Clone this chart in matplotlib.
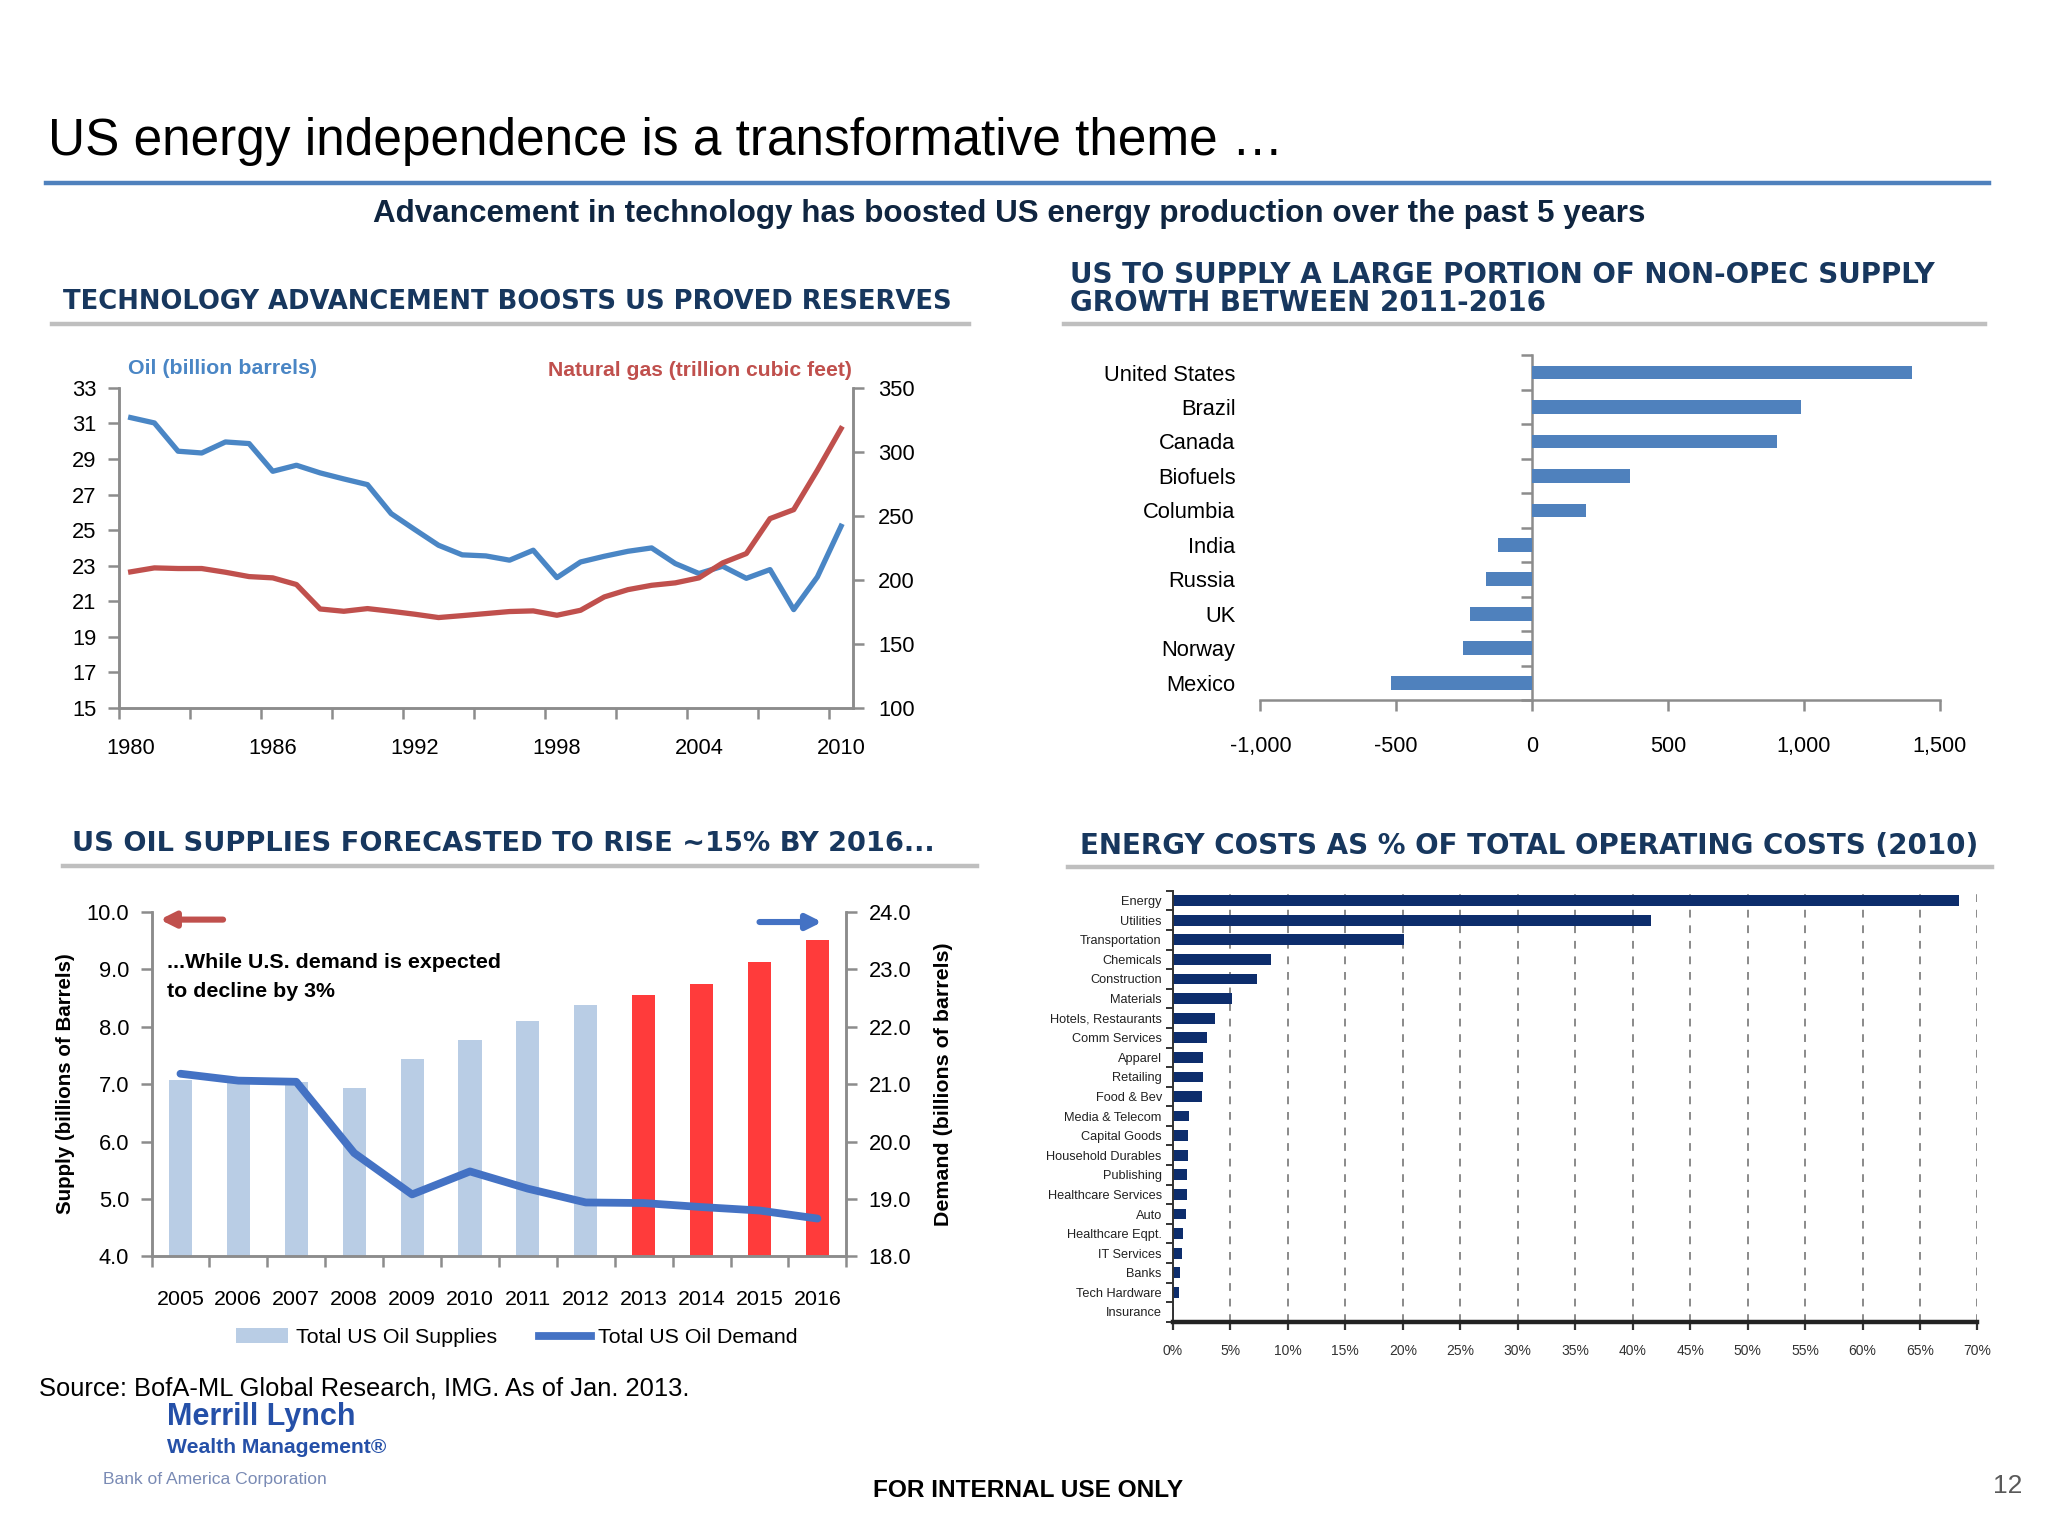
import matplotlib
matplotlib.use('Agg')
import matplotlib.pyplot as plt
from matplotlib import font_manager as fm
from matplotlib.lines import Line2D
from matplotlib.patches import Patch

# ---------------- fonts ----------------
_names = {f.name for f in fm.fontManager.ttflist}
REG = 'Liberation Sans' if 'Liberation Sans' in _names else 'DejaVu Sans'
if 'Liberation Sans Narrow' in _names:
    NAR = dict(family='Liberation Sans Narrow')
else:
    NAR = dict(family=REG)
plt.rcParams['font.family'] = [REG, 'DejaVu Sans']

# ---------------- data ----------------
years = list(range(1980, 2011))
oil_reserves = [31.33, 31.03, 29.44, 29.34, 29.96, 29.87, 28.31, 28.65, 28.22, 27.88,
                27.56, 25.93, 25.03, 24.15, 23.61, 23.55, 23.31, 23.87, 22.33, 23.21,
                23.53, 23.81, 24.00, 23.12, 22.56, 22.97, 22.29, 22.78, 20.53, 22.37, 25.22]
gas_reserves = [206.3, 209.4, 208.9, 208.9, 206.0, 202.6, 201.6, 196.4, 177.3, 175.5,
                177.6, 175.5, 173.2, 170.6, 172.1, 173.7, 175.3, 175.8, 172.4, 176.3,
                186.7, 192.4, 195.8, 197.7, 201.6, 213.3, 220.6, 247.9, 254.9, 285.7, 318.2]
year_labels = [1980, 1986, 1992, 1998, 2004, 2010]

countries = ['United States', 'Brazil', 'Canada', 'Biofuels', 'Columbia',
             'India', 'Russia', 'UK', 'Norway', 'Mexico']
supply_growth = [1400, 990, 900, 360, 200, -125, -170, -230, -255, -520]

fc_years = ['2005', '2006', '2007', '2008', '2009', '2010', '2011', '2012',
            '2013', '2014', '2015', '2016']
oil_supply = [7.07, 7.05, 7.03, 6.93, 7.43, 7.77, 8.10, 8.38, 8.55, 8.74, 9.12, 9.50]
oil_demand = [21.18, 21.06, 21.04, 19.80, 19.08, 19.48, 19.18, 18.94, 18.93, 18.86, 18.80, 18.66]
first_forecast_year = 2013

sectors = ['Energy', 'Utilities', 'Transportation', 'Chemicals', 'Construction', 'Materials',
           'Hotels, Restaurants', 'Comm Services', 'Apparel', 'Retailing', 'Food & Bev',
           'Media & Telecom', 'Capital Goods', 'Household Durables', 'Publishing',
           'Healthcare Services', 'Auto', 'Healthcare Eqpt.', 'IT Services', 'Banks',
           'Tech Hardware', 'Insurance']
energy_cost_pct = [68.4, 41.6, 20.1, 8.5, 7.3, 5.1, 3.7, 3.0, 2.6, 2.6, 2.5,
                   1.4, 1.3, 1.3, 1.2, 1.2, 1.1, 0.9, 0.8, 0.6, 0.55, 0.1]

# ---------------- colours ----------------
OIL_C = '#4A86C5'
GAS_C = '#C0504D'
BAR2_C = '#4F81BD'
SUP_C = '#B9CDE5'
SUP_F = '#FF3B3B'
DEM_C = '#4472C4'
NAVY = '#0D2D6C'
TITLE_C = '#17375E'
SPINE = '#8C8C8C'

TICK_FS = 7.9

fig = plt.figure(figsize=(10.24, 7.68), dpi=200)
fig.patch.set_facecolor('white')

def fx(x):
    return x / 1568.0

def fy(y):
    return 1 - y / 1176.0

# ---------------- header ----------------
fig.text(fx(37), fy(108), 'US energy independence is a transformative theme \u2026',
         fontsize=18.5, family=REG, color='black', va='center', ha='left')
fig.add_artist(Line2D([fx(35), fx(1523)], [fy(140), fy(140)], color='#4F81BD', lw=1.6))
fig.text(fx(773), fy(164), 'Advancement in technology has boosted US energy production over the past 5 years',
         fontsize=11.3, fontweight='bold', color='#0F2540', va='center', ha='center', **NAR)

def panel_title(x, y, txt, x0, x1, yl, fs=10.0):
    fig.text(fx(x), fy(y), txt, fontsize=fs, fontweight='bold', color=TITLE_C,
             va='center', ha='left', family='DejaVu Sans', linespacing=1.0)
    fig.add_artist(Line2D([fx(x0), fx(x1)], [fy(yl), fy(yl)], color='#BFBFBF', lw=1.6))

panel_title(48, 231, 'TECHNOLOGY ADVANCEMENT BOOSTS US PROVED RESERVES', 40, 742, 248, fs=9.3)
panel_title(819, 221, 'US TO SUPPLY A LARGE PORTION OF NON-OPEC SUPPLY\nGROWTH BETWEEN 2011-2016', 815, 1520, 248)
panel_title(55, 646, 'US OIL SUPPLIES FORECASTED TO RISE ~15% BY 2016...', 48, 748, 663, fs=9.8)
panel_title(827, 648, 'ENERGY COSTS AS % OF TOTAL OPERATING COSTS (2010)', 818, 1525, 664)

def style_spines(ax, color=SPINE):
    for s in ax.spines.values():
        s.set_color(color)
        s.set_linewidth(0.9)

# ---------------- panel 1 ----------------
ax1 = fig.add_axes([fx(91), fy(542), fx(653) - fx(91), fy(297) - fy(542)])
ax1.plot(years, oil_reserves, color=OIL_C, lw=1.9, solid_joinstyle='round')
ax1.set_xlim(1979.5, 2010.5)
ax1.set_ylim(15, 33)
ax1.set_yticks(range(15, 34, 2))
ax1.set_xticks(year_labels)
ax1.set_xticks([1979.5 + 3 * k for k in range(11)], minor=True)
ax1.tick_params(axis='x', which='major', length=0, pad=11, labelsize=TICK_FS, labelfontfamily=NAR['family'])
ax1.tick_params(axis='x', which='minor', length=4, color=SPINE, width=0.9)
ax1.tick_params(axis='y', length=4, color=SPINE, width=0.9, pad=4, labelsize=TICK_FS,
                labelfontfamily=NAR['family'])
ax1.spines['top'].set_visible(False)
style_spines(ax1)
ax1b = ax1.twinx()
ax1b.plot(years, gas_reserves, color=GAS_C, lw=1.9, solid_joinstyle='round')
ax1b.set_ylim(100, 350)
ax1b.set_yticks(range(100, 351, 50))
ax1b.tick_params(axis='y', length=4, color=SPINE, width=0.9, pad=5, labelsize=TICK_FS,
                 labelfontfamily=NAR['family'])
ax1b.spines['top'].set_visible(False)
style_spines(ax1b)
ax1.text(0.0125, 1.062, 'Oil (billion barrels)', transform=ax1.transAxes, color=OIL_C,
         fontsize=7.7, fontweight='bold', va='center', ha='left', **NAR)
ax1.text(0.998, 1.055, 'Natural gas (trillion cubic feet)', transform=ax1.transAxes, color=GAS_C,
         fontsize=7.6, fontweight='bold', va='center', ha='right', **NAR)

# ---------------- panel 2 ----------------
ax2 = fig.add_axes([fx(965), fy(536), fx(1485) - fx(965), fy(272) - fy(536)])
ypos = list(range(len(countries)))
ax2.barh(ypos, supply_growth, height=0.4, color=BAR2_C)
ax2.set_xlim(-1000, 1500)
ax2.set_ylim(len(countries) - 0.5, -0.5)
ax2.set_xticks([-1000, -500, 0, 500, 1000, 1500])
ax2.set_xticklabels(['-1,000', '-500', '0', '500', '1,000', '1,500'])
ax2.set_yticks(ypos)
ax2.set_yticklabels(countries)
ax2.tick_params(axis='y', length=0, pad=9, labelsize=7.9, labelfontfamily=NAR['family'])
ax2.tick_params(axis='x', length=4, color=SPINE, width=0.9, pad=9, labelsize=7.8,
                labelfontfamily=NAR['family'])
for s in ['top', 'right', 'left']:
    ax2.spines[s].set_visible(False)
ax2.spines['bottom'].set_color(SPINE)
ax2.spines['bottom'].set_linewidth(0.9)
sec = ax2.secondary_yaxis(0.4)
sec.set_yticks([k - 0.5 for k in range(len(countries) + 1)])
sec.set_yticklabels([])
sec.tick_params(axis='y', length=4, color=SPINE, width=0.9)
sec.spines['left'].set_color(SPINE)
sec.spines['left'].set_linewidth(0.9)

# ---------------- panel 3 ----------------
ax3 = fig.add_axes([fx(116), fy(962), fx(648) - fx(116), fy(698) - fy(962)])
xpos = list(range(len(fc_years)))
bar_cols = [SUP_C if int(y) < first_forecast_year else SUP_F for y in fc_years]
ax3.bar(xpos, oil_supply, width=0.4, color=bar_cols, label='Total US Oil Supplies')
ax3.set_ylim(4.0, 10.0)
ax3.set_xlim(-0.5, len(fc_years) - 0.5)
ax3.set_yticks([4.0 + k for k in range(7)])
ax3.yaxis.set_major_formatter(matplotlib.ticker.FormatStrFormatter('%.1f'))
ax3.set_xticks(xpos)
ax3.set_xticklabels(fc_years)
ax3.set_xticks([k - 0.5 for k in range(len(fc_years) + 1)], minor=True)
ax3.tick_params(axis='x', which='major', length=0, pad=12, labelsize=7.7, labelfontfamily=NAR['family'])
ax3.tick_params(axis='x', which='minor', length=4, color=SPINE, width=0.9)
ax3.tick_params(axis='y', length=4, color=SPINE, width=0.9, pad=4, labelsize=TICK_FS,
                labelfontfamily=NAR['family'])
ax3.spines['top'].set_visible(False)
style_spines(ax3)
ax3.set_ylabel('Supply (billions of Barrels)', fontsize=7.4, fontweight='bold', family=REG)
ax3.yaxis.set_label_coords(-0.11, 0.5)
ax3b = ax3.twinx()
ax3b.plot(xpos, oil_demand, color=DEM_C, lw=2.8, solid_joinstyle='round', solid_capstyle='round')
ax3b.set_ylim(18.0, 24.0)
ax3b.set_yticks([18.0 + k for k in range(7)])
ax3b.yaxis.set_major_formatter(matplotlib.ticker.FormatStrFormatter('%.1f'))
ax3b.tick_params(axis='y', length=4, color=SPINE, width=0.9, pad=4, labelsize=TICK_FS,
                 labelfontfamily=NAR['family'])
ax3b.spines['top'].set_visible(False)
style_spines(ax3b)
ax3b.set_ylabel('Demand (billions of barrels)', fontsize=7.7, fontweight='bold', family=REG)
ax3b.yaxis.set_label_coords(1.126, 0.5)
ax3.annotate('', xy=(0.012, 0.977), xytext=(0.103, 0.977), xycoords='axes fraction',
             arrowprops=dict(arrowstyle='-|>', color=GAS_C, lw=2.2, mutation_scale=11,
                             shrinkA=0, shrinkB=0))
ax3.annotate('', xy=(0.965, 0.97), xytext=(0.875, 0.97), xycoords='axes fraction',
             arrowprops=dict(arrowstyle='-|>', color=DEM_C, lw=2.2, mutation_scale=11,
                             shrinkA=0, shrinkB=0))
ax3.text(0.0226, 0.88, '...While U.S. demand is expected\nto decline by 3%', transform=ax3.transAxes,
         fontsize=7.7, fontweight='bold', va='top', ha='left', linespacing=1.65, **NAR)
handles = [Patch(facecolor=SUP_C, edgecolor='none'), Line2D([0], [0], color=DEM_C, lw=2.8)]
ax3.legend(handles, ['Total US Oil Supplies', 'Total US Oil Demand'], loc='center',
           bbox_to_anchor=(0.526, -0.235), ncol=2, frameon=False, handlelength=2.45,
           handletextpad=0.35, columnspacing=1.95, prop=dict(size=7.7, **NAR))

# ---------------- panel 4 ----------------
ax4 = fig.add_axes([fx(898), fy(1012), fx(1514) - fx(898), fy(682) - fy(1012)])
spos = list(range(len(sectors)))
ax4.barh(spos, energy_cost_pct, height=0.55, color=NAVY)
ax4.set_xlim(0, 70)
ax4.set_ylim(len(sectors) - 0.5, -0.5)
ax4.set_xticks(range(0, 71, 5))
ax4.set_xticklabels(['%d%%' % v for v in range(0, 71, 5)])
ax4.set_yticks(spos)
ax4.set_yticklabels(sectors)
ax4.set_yticks([k - 0.5 for k in range(len(sectors) + 1)], minor=True)
ax4.tick_params(axis='y', which='major', length=0, pad=4, labelsize=4.6, labelfontfamily=NAR['family'],
                labelcolor='#222222')
ax4.tick_params(axis='y', which='minor', length=2.5, color='#333333', width=0.7)
ax4.tick_params(axis='x', length=3, color='#333333', width=0.8, pad=5, labelsize=5.0,
                labelfontfamily=NAR['family'], labelcolor='#333333')
ax4.grid(axis='x', linestyle=(0, (4, 4)), color='#8A8A8A', lw=0.7)
ax4.set_axisbelow(True)
for s in ['top', 'right']:
    ax4.spines[s].set_visible(False)
ax4.spines['left'].set_color('#333333')
ax4.spines['left'].set_linewidth(0.7)
ax4.spines['bottom'].set_color('#222222')
ax4.spines['bottom'].set_linewidth(1.6)

# ---------------- footer ----------------
fig.text(fx(30), fy(1063), 'Source: BofA-ML Global Research, IMG. As of Jan. 2013.', fontsize=9.2,
         family=REG, va='center', ha='left')
fig.text(fx(128), fy(1085), 'Merrill Lynch', fontsize=11, fontweight='bold', color='#2550A8',
         va='center', ha='left', **NAR)
fig.text(fx(128), fy(1108), 'Wealth Management\u00ae', fontsize=7.6, fontweight='bold', color='#2550A8',
         va='center', ha='left', **NAR)
fig.text(fx(79), fy(1133), 'Bank of America Corporation', fontsize=6.3, color='#7A8BB5',
         va='center', ha='left', family=REG)
fig.text(fx(787), fy(1141), 'FOR INTERNAL USE ONLY', fontsize=8.8, fontweight='bold',
         va='center', ha='center', family=REG)
fig.text(fx(1548), fy(1138), '12', fontsize=9.5, color='#595959', va='center', ha='right', family=REG)

fig.savefig('out.png', dpi=200, facecolor='white')
